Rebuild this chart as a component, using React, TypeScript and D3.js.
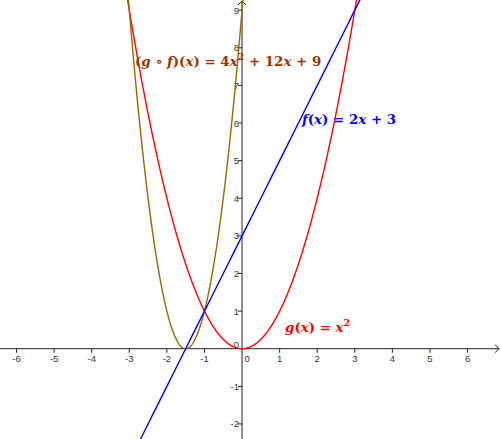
import React, { useRef, useEffect } from "react";
import * as d3 from "d3";

// polynomial coefficients [c0, c1, c2] -> c0 + c1*x + c2*x^2
const gCoef = [0, 0, 1]; // g(x) = x^2
const fCoef = [3, 2, 0]; // f(x) = 2x + 3
const gofCoef = [9, 12, 4]; // (g o f)(x) = 4x^2 + 12x + 9

const xTicks = [-6, -5, -4, -3, -2, -1, 0, 1, 2, 3, 4, 5, 6];
const yTicks = [-2, -1, 0, 1, 2, 3, 4, 5, 6, 7, 8, 9];

const xDomain: [number, number] = [-6.44, 6.89];
const yDomain: [number, number] = [-2.4, 9.27];

const W = 501;
const H = 439;

type Part = { t: string; italic?: boolean; sup?: boolean };

const evalPoly = (c: number[], x: number) => c[0] + c[1] * x + c[2] * x * x;

const App: React.FC = () => {
  const svgRef = useRef<SVGSVGElement | null>(null);

  useEffect(() => {
    const svg = d3.select(svgRef.current);
    svg.selectAll("*").remove();

    const x = d3.scaleLinear().domain(xDomain).range([0, W]);
    const y = d3.scaleLinear().domain(yDomain).range([H, 0]);

    svg.append("rect").attr("width", W).attr("height", H).attr("fill", "#fff");

    const axisColor = "#222";
    const x0 = x(0);
    const y0 = y(0);

    // x axis + arrow
    svg
      .append("line")
      .attr("x1", 0)
      .attr("x2", W - 2)
      .attr("y1", y0)
      .attr("y2", y0)
      .attr("stroke", axisColor);
    svg
      .append("path")
      .attr("d", `M${W - 6},${y0 - 4} L${W - 2},${y0} L${W - 6},${y0 + 4}`)
      .attr("fill", "none")
      .attr("stroke", axisColor);

    // y axis + arrow
    svg
      .append("line")
      .attr("x1", x0)
      .attr("x2", x0)
      .attr("y1", H)
      .attr("y2", 1)
      .attr("stroke", axisColor);
    svg
      .append("path")
      .attr("d", `M${x0 - 4},5 L${x0},1 L${x0 + 4},5`)
      .attr("fill", "none")
      .attr("stroke", axisColor);

    const tickFont = "Liberation Sans, Arial, sans-serif";

    xTicks.forEach((t) => {
      if (t !== 0) {
        svg
          .append("line")
          .attr("x1", x(t))
          .attr("x2", x(t))
          .attr("y1", y0)
          .attr("y2", y0 + 4)
          .attr("stroke", axisColor);
      }
      svg
        .append("text")
        .attr("x", t === 0 ? x0 + 5 : x(t))
        .attr("y", y0 + 13)
        .attr("text-anchor", "middle")
        .attr("font-family", tickFont)
        .attr("font-size", 9.5)
        .attr("fill", "#333")
        .text(`${t}`);
    });

    yTicks.forEach((t) => {
      if (t !== 0) {
        svg
          .append("line")
          .attr("x1", x0 - 4)
          .attr("x2", x0)
          .attr("y1", y(t))
          .attr("y2", y(t))
          .attr("stroke", axisColor);
      }
      svg
        .append("text")
        .attr("x", x0 - 3)
        .attr("y", t === 0 ? y(t) - 1 : y(t) + 3.5)
        .attr("text-anchor", "end")
        .attr("font-family", tickFont)
        .attr("font-size", 9.5)
        .attr("fill", "#333")
        .text(`${t}`);
    });

    // curves
    const drawPoly = (c: number[], color: string) => {
      const pts: [number, number][] = d3
        .range(xDomain[0], xDomain[1], 0.01)
        .map((v) => [v, evalPoly(c, v)] as [number, number])
        .filter((p) => p[1] > yDomain[0] - 2 && p[1] < yDomain[1] + 2);
      const l = d3
        .line<[number, number]>()
        .x((d) => x(d[0]))
        .y((d) => y(d[1]));
      svg
        .append("path")
        .datum(pts)
        .attr("d", l)
        .attr("fill", "none")
        .attr("stroke", color)
        .attr("stroke-width", 1.4);
    };

    drawPoly(gCoef, "#ff0000");
    drawPoly(gofCoef, "#996600");
    drawPoly(fCoef, "#0000ff");

    // labels
    const mathFont = "DejaVu Serif, serif";
    const addLabel = (px: number, py: number, color: string, parts: Part[]) => {
      const txt = svg
        .append("text")
        .attr("x", px)
        .attr("y", py)
        .attr("font-family", mathFont)
        .attr("font-weight", "bold")
        .attr("font-size", 13.4)
        .attr("fill", color)
        .attr("xml:space", "preserve");
      let raised = false;
      parts.forEach((p) => {
        const s = txt.append("tspan").text(p.t);
        if (p.italic) s.attr("font-style", "italic");
        if (p.sup) {
          s.attr("font-size", 9.5).attr("dy", -6);
          raised = true;
        } else if (raised) {
          s.attr("dy", 6);
          raised = false;
        }
      });
    };

    addLabel(135, 66, "#993300", [
      { t: "(" },
      { t: "g", italic: true },
      { t: " \u2218 " },
      { t: "f", italic: true },
      { t: ")(" },
      { t: "x", italic: true },
      { t: ") = 4" },
      { t: "x", italic: true },
      { t: "2", sup: true },
      { t: " + 12" },
      { t: "x", italic: true },
      { t: " + 9" },
    ]);
    addLabel(302, 124, "#0000ff", [
      { t: "f", italic: true },
      { t: "(" },
      { t: "x", italic: true },
      { t: ") = 2" },
      { t: "x", italic: true },
      { t: " + 3" },
    ]);
    addLabel(285, 332, "#ff0000", [
      { t: "g", italic: true },
      { t: "(" },
      { t: "x", italic: true },
      { t: ") = " },
      { t: "x", italic: true },
      { t: "2", sup: true },
    ]);
  }, []);

  return (
    <svg
      ref={svgRef}
      width={W}
      height={H}
      style={{ position: "absolute", left: 0, top: 0 }}
    />
  );
};

export default App;
